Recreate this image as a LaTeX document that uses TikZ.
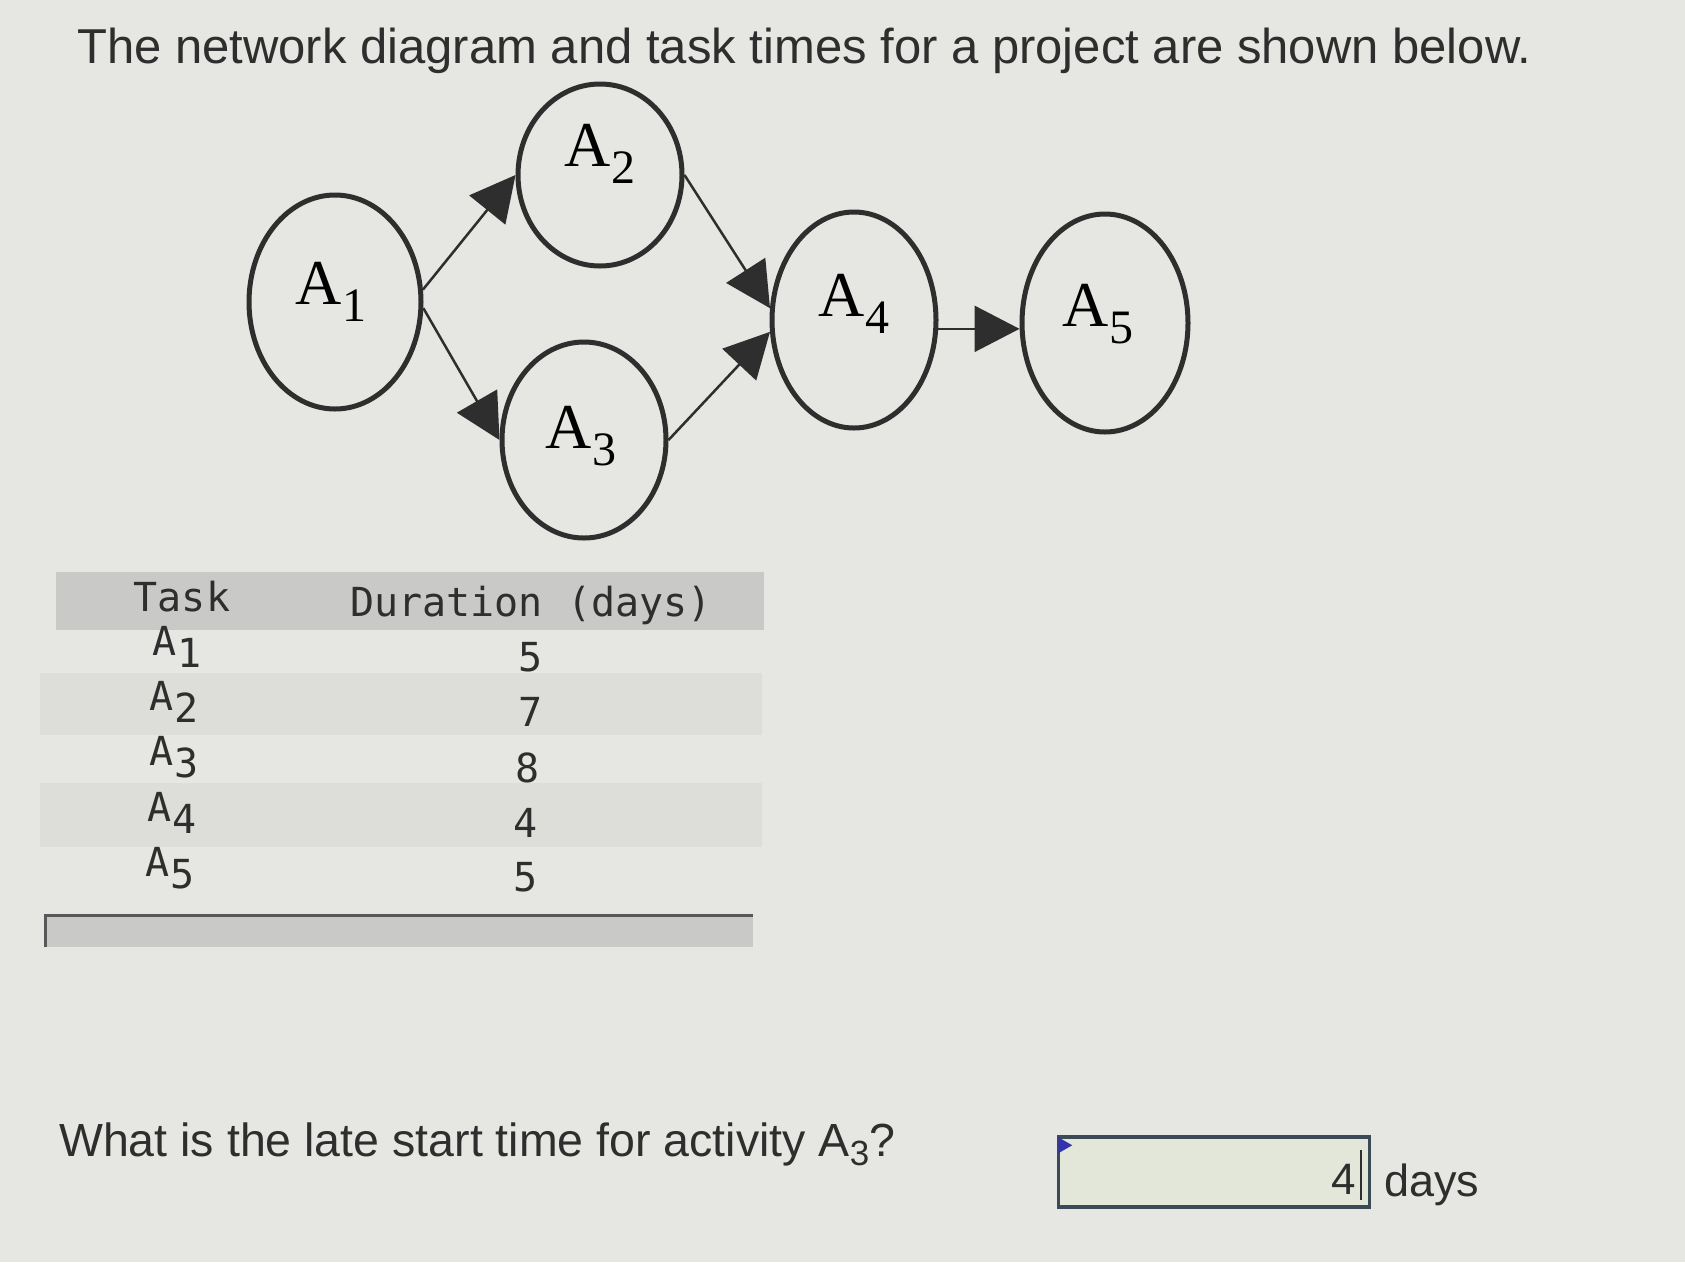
\documentclass[tikz,border=0pt]{standalone}
\usepackage{fontspec}
\setmainfont{Liberation Sans}
\newfontfamily\serifA{Liberation Serif}
\newfontfamily\monoA{DejaVu Sans Mono}
\usetikzlibrary{arrows.meta,shapes.geometric}
\definecolor{bg}{HTML}{E6E6E2}
\definecolor{ink}{HTML}{2E2E2E}
\definecolor{hdr}{HTML}{C9C9C7}
\definecolor{band}{HTML}{DDDDDA}
\definecolor{boxfill}{HTML}{E2E7DA}
\definecolor{boxline}{HTML}{3C4A58}
\newcommand\actlbl[1]{{\serifA\fontsize{64}{64}\selectfont A\raisebox{-17pt}{\fontsize{48}{48}\selectfont #1}}}
\newcommand\rowlbl[1]{A\raisebox{-12pt}{#1}}
\begin{document}
\begin{tikzpicture}[x=1pt,y=-1pt,
  act/.style={ellipse, draw=ink, line width=5pt, inner sep=0pt},
  conn/.style={draw=ink, line width=2.5pt, -{Triangle[length=45pt,width=46pt]}},
  mono/.style={font=\monoA\fontsize{40}{40}\selectfont, text=ink, inner sep=0pt},
  sans/.style={text=ink, inner sep=0pt}]
\useasboundingbox (0,0) rectangle (1685,1262);
\fill[bg] (0,0) rectangle (1685,1262);

% title
\node[sans, font=\fontsize{49}{49}\selectfont, anchor=base west] (title) at (77,63)
  {The network diagram and task times for a project are shown below.};

% activity nodes
\node[act, minimum width=172pt, minimum height=214pt,
  label={[inner sep=0pt, xshift=-4pt, yshift=10pt]center:\actlbl{1}}] (A1) at (335,302) {};
\node[act, minimum width=164pt, minimum height=182pt,
  label={[inner sep=0pt, yshift=21pt]center:\actlbl{2}}] (A2) at (600,175) {};
\node[act, minimum width=164pt, minimum height=196pt,
  label={[inner sep=0pt, xshift=-3pt, yshift=4pt]center:\actlbl{3}}] (A3) at (584,440) {};
\node[act, minimum width=164pt, minimum height=216pt,
  label={[inner sep=0pt, yshift=16pt]center:\actlbl{4}}] (A4) at (854,320) {};
\node[act, minimum width=166pt, minimum height=218pt,
  label={[inner sep=0pt, xshift=-7pt, yshift=9pt]center:\actlbl{5}}] (A5) at (1105,323) {};

% connectors
\draw[conn] (A1.8) -- (A2.west);
\draw[conn] (A1.-4) -- (A3.west);
\draw[conn] (A2.east) -- (A4.172);
\draw[conn] (A3.east) -- (A4.188);
\draw[conn] (A4.-6) -- (A4.-6 -| A5.west);

% table bands
\fill[hdr] (56,572) rectangle (764,630);
\fill[band] (40,673) rectangle (762,735);
\fill[band] (40,783) rectangle (762,847);
\fill[hdr] (45,915) rectangle (753,947);
\draw[draw=ink!80, line width=3pt] (45,947) -- (45,915) -- (753,915);

% table text
\node[mono] (hTask) at (182,597) {Task};
\node[mono] (hDur) at (531,605) {Duration (days)};
\node[mono] (r1) at (177,647) {\rowlbl{1}};
\node[mono] (d1) at (531,657) {5};
\node[mono] (r2) at (174,702) {\rowlbl{2}};
\node[mono] (d2) at (531,712) {7};
\node[mono] (r3) at (174,757) {\rowlbl{3}};
\node[mono] (d3) at (528,768) {8};
\node[mono] (r4) at (172,813) {\rowlbl{4}};
\node[mono] (d4) at (526,823) {4};
\node[mono] (r5) at (170,868) {\rowlbl{5}};
\node[mono] (d5) at (526,877) {5};

% question
\node[sans, font=\fontsize{46.5}{46.5}\selectfont, anchor=base west] (q) at (59,1156)
  {What is the late start time for activity A\raisebox{-9pt}{\fontsize{35}{35}\selectfont 3}?};

% answer box
\node[draw=boxline, fill=boxfill, line width=3.5pt, minimum width=311pt, minimum height=70pt, inner sep=0pt] (ans) at (1214,1172) {};
\fill[blue!60!black!80] (ans.north west) ++(1.5,2) -- ++(14,8) -- ++(-14,8) -- cycle;
\node[sans, font=\fontsize{44}{44}\selectfont, anchor=base east] (val) at (1356,1194) {4};
\draw[ink, line width=1.5pt] (1361,1150) -- (1361,1200);
\node[sans, font=\fontsize{45}{45}\selectfont, anchor=base west] (days) at (1384,1196) {days};
\end{tikzpicture}
\end{document}
